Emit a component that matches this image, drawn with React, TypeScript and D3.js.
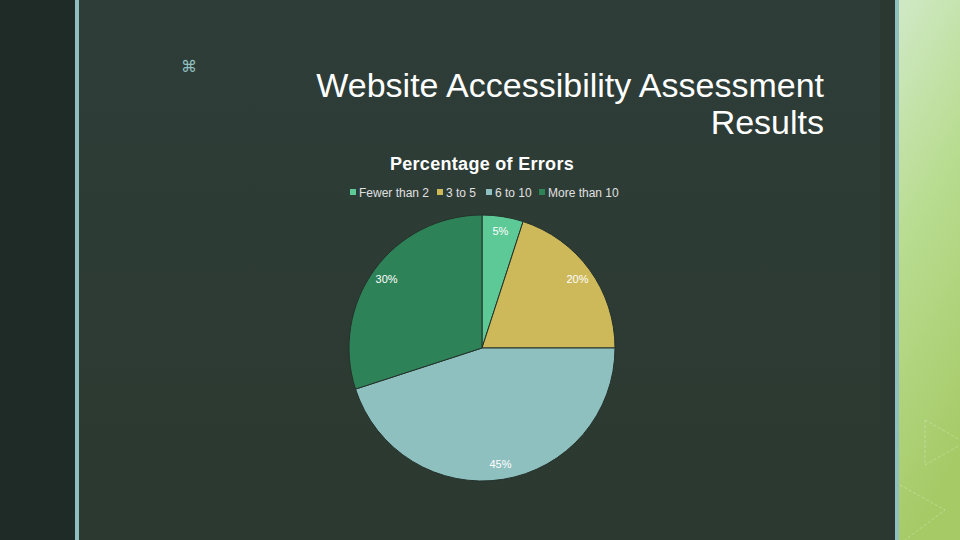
import React from "react";
import * as d3 from "d3";

const categories = ["Fewer than 2", "3 to 5", "6 to 10", "More than 10"];
const values = [5, 20, 45, 30];
const colors = ["#5dc996", "#cdb85a", "#8fc0c0", "#2e8257"];
const titleLines = ["Website Accessibility Assessment", "Results"];
const chartTitle = "Percentage of Errors";

const W = 960;
const H = 540;
const cx = 482;
const cy = 348;
const R = 133;

export default function App() {
  const pie = d3.pie<number>().sort(null).value((d) => d)(values);
  const arc = d3.arc<d3.PieArcDatum<number>>().innerRadius(0).outerRadius(R);
  const labelArc = d3.arc<d3.PieArcDatum<number>>().innerRadius(118).outerRadius(118);
  const total = d3.sum(values);

  const legendX = [350, 437, 486, 539];

  return (
    <svg
      width={W}
      height={H}
      style={{ position: "absolute", left: 0, top: 0, display: "block" }}
      fontFamily="'Liberation Sans', Arial, sans-serif"
    >
      <defs>
        <linearGradient id="bg" x1="0" y1="0" x2="0" y2="1">
          <stop offset="0" stopColor="#2e3d38" />
          <stop offset="1" stopColor="#2b3930" />
        </linearGradient>
        <linearGradient id="green" x1="0" y1="0" x2="0.2" y2="1">
          <stop offset="0" stopColor="#d0e9c6" />
          <stop offset="0.45" stopColor="#b8dc90" />
          <stop offset="1" stopColor="#a6ca66" />
        </linearGradient>
      </defs>
      <rect x={0} y={0} width={W} height={H} fill="url(#bg)" />
      <rect x={0} y={0} width={75} height={H} fill="#1f2b27" />
      <rect x={75} y={0} width={4} height={H} fill="#8fbfbf" />
      <rect x={880} y={0} width={15} height={H} fill="#2b3832" />
      <rect x={895} y={0} width={4} height={H} fill="#8fbfbf" />
      <rect x={899} y={0} width={61} height={H} fill="url(#green)" />
      <g fill="none" stroke="#e6f3d0" strokeOpacity={0.35} strokeWidth={1} strokeDasharray="3,2">
        <path d="M925,420 L960,440 M925,420 L925,465 L960,445" />
        <path d="M900,485 L945,510 L905,540" />
      </g>

      <text x={189} y={72} fill="#8fbfbf" fontSize={16} textAnchor="middle" fontFamily="'DejaVu Sans', sans-serif">
        ⌘
      </text>

      <g fill="#ffffff" fontSize={34} textAnchor="end">
        {titleLines.map((t, i) => (
          <text key={i} x={824} y={97 + i * 37}>
            {t}
          </text>
        ))}
      </g>

      <text x={482} y={170} fill="#ffffff" fontSize={18} fontWeight="bold" textAnchor="middle" letterSpacing={0.3}>
        {chartTitle}
      </text>

      <g fontSize={12} fill="#e0e0e0">
        {categories.map((c, i) => (
          <g key={c}>
            <rect x={legendX[i]} y={189} width={6} height={6} fill={colors[i]} />
            <text x={legendX[i] + 9} y={197}>
              {c}
            </text>
          </g>
        ))}
      </g>

      <g transform={`translate(${cx},${cy})`}>
        {pie.map((p, i) => (
          <path key={i} d={arc(p) || ""} fill={colors[i]} stroke="#24322c" strokeWidth={1} />
        ))}
        {pie.map((p, i) => {
          const [x, y] = labelArc.centroid(p);
          return (
            <text
              key={"l" + i}
              x={x}
              y={y}
              dy="0.35em"
              fill="#ffffff"
              fontSize={11}
              textAnchor="middle"
            >
              {`${Math.round((p.data / total) * 100)}%`}
            </text>
          );
        })}
      </g>
    </svg>
  );
}
